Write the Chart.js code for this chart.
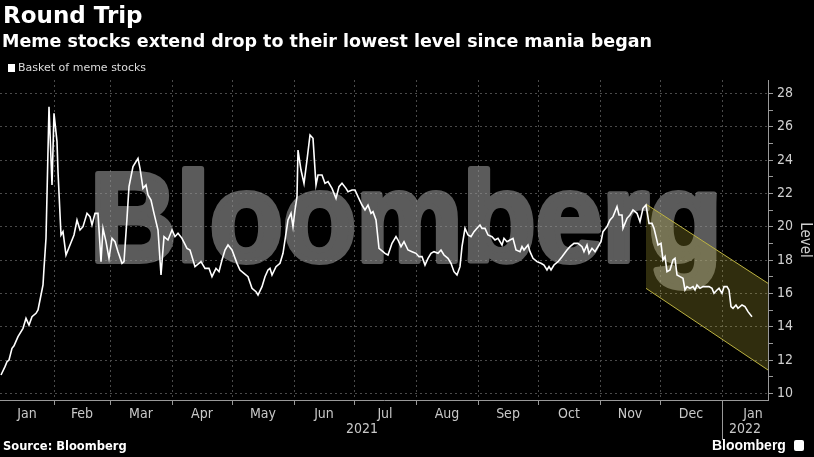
<!DOCTYPE html>
<html>
<head>
<meta charset="utf-8">
<script src="https://cdn.jsdelivr.net/npm/chart.js@4.4.0/dist/chart.umd.min.js"></script>
<style>
  html, body { margin: 0; padding: 0; background: #000; }
  #wrap { position: relative; width: 814px; height: 457px; overflow: hidden; }
  #wrap canvas { position: absolute; left: 0; top: 0; }
  .txt { position: absolute; color: #fff; white-space: nowrap; }
  #title { left: 3px; top: 2px; font: bold 23px 'DejaVu Sans', sans-serif; }
  #subtitle { left: 2px; top: 31px; font: bold 17.5px 'DejaVu Sans', sans-serif; }
  #legend { left: 8px; top: 61px; font: 11px 'DejaVu Sans', sans-serif; color: #ddd; }
  #legend i { display: inline-block; width: 7px; height: 8px; background: #fff; margin-right: 3px; vertical-align: -1px; }
  #source { left: 3px; top: 439px; font: bold 11.5px 'DejaVu Sans', sans-serif; }
  #logo { left: 712px; top: 437px; font: bold 14px 'Liberation Sans', sans-serif; }
  #logo b { display: inline-block; width: 10px; height: 11px; background: #fff; border-radius: 2px; margin-left: 8px; vertical-align: -1px; }
</style>
</head>
<body>
<div id="wrap">
  <canvas id="chart" width="814" height="457"></canvas>
  <div class="txt" id="title">Round Trip</div>
  <div class="txt" id="subtitle">Meme stocks extend drop to their lowest level since mania began</div>
  <div class="txt" id="legend"><i></i>Basket of meme stocks</div>
  <div class="txt" id="source">Source: Bloomberg</div>
  <div class="txt" id="logo">Bloomberg<b></b></div>
</div>
<script>
// x values are days counted from Jan 1 2021
const monthStarts = [31, 59, 90, 120, 151, 181, 212, 243, 273, 304, 334, 365];
const monthLabelDays = [17.5, 45, 74.5, 105, 135.5, 166, 196.5, 227.5, 258, 288.5, 319, 349.5, 380.5];
const monthLabels = ['Jan', 'Feb', 'Mar', 'Apr', 'May', 'Jun', 'Jul', 'Aug', 'Sep', 'Oct', 'Nov', 'Dec', 'Jan'];
const yearLabelDays = [185, 376.5];
const yearLabels = ['2021', '2022'];
const levelTicks = [10, 11, 12, 13, 14, 15, 16, 17, 18, 19, 20, 21, 22, 23, 24, 25, 26, 27, 28];

const days = [4.5, 6.5, 7.5, 8.5, 10, 11, 13, 15.5, 17, 18.5, 20, 22, 23, 24.5, 25.5, 26, 27, 27.5, 28.5, 30,
  31, 32.5, 33, 34.5, 35.5, 37, 39, 41, 42.5, 44, 45.5, 47.5, 49, 50, 51.5, 53, 54.5, 55.5, 57, 58.5,
  60, 61.5, 63, 65, 66, 67.5, 68.5, 70.5, 73, 74, 75.5, 77, 78, 79.5, 81, 83, 84.5, 86, 88, 90,
  91.5, 93, 95, 97.5, 99, 101.5, 104.5, 106.5, 108.5, 110, 112, 113.5, 115, 116.5, 118, 120, 122.5, 124, 126, 128,
  130, 132, 133, 135, 136.5, 138, 139, 140, 142, 144, 145.5, 147, 148, 149.5, 150.5, 151.5, 152.5, 153, 154.5, 156,
  157.5, 159, 160.5, 162, 163, 165, 166.5, 168, 170, 172, 173.5, 175, 177, 178, 180, 181.5, 183, 185, 186.5, 188,
  189.5, 190.5, 192, 193.5, 195.5, 196.5, 198, 200, 202, 203, 204.5, 206, 208, 210, 212, 213.5, 215, 216.5, 218, 219.5,
  221, 223, 224.5, 226, 228, 229.5, 231, 232.5, 234, 235, 236.5, 238, 239.5, 241, 242.5, 244, 245, 246.5, 248, 250,
  251.5, 253, 255, 256, 257.5, 259, 260.5, 262, 264, 265, 266, 268, 269, 270.5, 272.5, 274.5, 276, 277.5, 278.5, 279.5,
  281, 283, 285, 287.5, 289, 291, 293, 295, 296, 297.5, 298.5, 300, 301.5, 303, 304.5, 305.5, 307.5, 309, 310.5, 312.5,
  313.5, 315, 315.5, 317.5, 319, 320.5, 322.5, 324, 325.5, 327, 328.5, 330, 331, 332, 333, 334.5, 335.5, 336.5, 337.5, 339,
  340.5, 341.5, 342.5, 344, 345.5, 346.5, 347.5, 349, 350.5, 351.5, 352.5, 354, 355.5, 357.5, 358.5, 360, 361, 362.5, 363.5, 365,
  366, 367.5, 368.5, 369.5, 370.5, 372, 373, 375, 376.5, 378, 380];
const levels = [11.1, 11.6, 11.9, 12.0, 12.7, 12.85, 13.4, 13.9, 14.5, 14.1, 14.6, 14.8, 15.0, 15.9, 16.5, 17.5, 19.3, 21.9, 27.2, 22.5,
  26.8, 25.1, 23.3, 19.5, 19.7, 18.3, 18.9, 19.5, 20.4, 19.8, 20.0, 20.8, 20.6, 20.1, 20.8, 20.8, 17.9, 19.9, 19.1, 18.1,
  19.3, 19.1, 18.5, 17.8, 17.9, 20.5, 22.4, 23.6, 24.1, 23.5, 22.3, 22.5, 21.9, 21.6, 20.8, 19.8, 17.1, 19.4, 19.2, 19.8,
  19.4, 19.6, 19.3, 18.7, 18.6, 17.6, 17.9, 17.5, 17.5, 17.0, 17.5, 17.3, 18.0, 18.6, 18.9, 18.6, 17.8, 17.4, 17.2, 17.0,
  16.3, 16.1, 15.9, 16.4, 17.0, 17.4, 17.5, 17.1, 17.6, 17.8, 18.4, 19.6, 20.4, 20.8, 20.0, 21.0, 21.8, 24.6, 23.4, 22.6,
  24.0, 25.5, 25.3, 22.5, 23.1, 23.1, 22.6, 22.7, 22.3, 21.7, 22.4, 22.6, 22.3, 22.1, 22.2, 22.2, 21.8, 21.3, 21.0, 21.3,
  20.8, 20.9, 20.4, 18.7, 18.5, 18.4, 18.3, 19.0, 19.4, 19.2, 18.8, 19.1, 18.6, 18.5, 18.4, 18.2, 18.2, 17.7, 18.1, 18.4,
  18.5, 18.4, 18.6, 18.3, 18.1, 17.8, 17.3, 17.1, 17.6, 18.8, 19.9, 19.5, 19.4, 19.7, 19.9, 20.1, 19.9, 19.9, 19.5, 19.4,
  19.2, 19.3, 18.9, 19.3, 19.1, 19.2, 19.3, 18.6, 18.5, 18.8, 18.6, 18.9, 18.5, 18.1, 17.9, 17.8, 17.7, 17.4, 17.6, 17.4,
  17.7, 17.9, 18.2, 18.6, 18.8, 19.0, 19.0, 18.8, 18.5, 18.9, 18.4, 18.7, 18.5, 18.8, 19.1, 19.7, 20.0, 20.4, 20.6, 21.2,
  20.7, 20.7, 19.9, 20.5, 20.7, 21.0, 20.8, 20.3, 21.1, 21.3, 20.2, 20.2, 19.9, 19.4, 18.9, 19.0, 18.0, 18.2, 17.3, 17.4,
  18.0, 18.1, 17.1, 17.0, 16.9, 16.2, 16.4, 16.3, 16.4, 16.2, 16.5, 16.3, 16.4, 16.4, 16.4, 16.3, 16.0, 16.2, 16.3, 16.0,
  16.4, 16.4, 16.2, 15.2, 15.1, 15.3, 15.1, 15.3, 15.2, 14.9, 14.6];

// downward channel drawn over the last leg
const channelDays = [327, 388];
const channelUpper = [21.35, 16.6];
const channelLower = [16.3, 11.4];

const tickFont = { family: "'Liberation Sans Narrow', 'DejaVu Sans Condensed', 'Liberation Sans'", size: 14 };
const gridGrey = '#4a4a4a';

const extras = {
  id: 'extras',
  beforeDatasetsDraw(chart) {
    // heavy watermark: fill + stroke on a scratch canvas, then blended in once
    const off = document.createElement('canvas');
    off.width = chart.width;
    off.height = chart.height;
    const o = off.getContext('2d');
    o.font = "bold 126px 'Liberation Sans'";
    o.fillStyle = '#989898';
    o.strokeStyle = '#989898';
    o.lineWidth = 6;
    o.lineJoin = 'round';
    o.textAlign = 'center';
    o.textBaseline = 'alphabetic';
    o.fillText('Bloomberg', 406, 261, 632);
    o.strokeText('Bloomberg', 406, 261, 632);
    const ctx = chart.ctx;
    ctx.save();
    ctx.globalAlpha = 0.6;
    ctx.drawImage(off, 0, 0);
    ctx.restore();
  },
  afterDraw(chart) {
    const ctx = chart.ctx;
    const sx = chart.scales.x;
    ctx.save();
    ctx.fillStyle = '#c8c8c8';
    ctx.font = "14px 'Liberation Sans Narrow', 'DejaVu Sans Condensed', 'Liberation Sans'";
    ctx.textAlign = 'center';
    ctx.textBaseline = 'middle';
    yearLabels.forEach((t, i) => ctx.fillText(t, sx.getPixelForValue(yearLabelDays[i]), 429));
    const px = Math.round(sx.getPixelForValue(365)) + 0.5;
    ctx.strokeStyle = '#999';
    ctx.lineWidth = 1;
    ctx.beginPath();
    ctx.moveTo(px, chart.chartArea.bottom);
    ctx.lineTo(px, 440);
    ctx.stroke();
    ctx.restore();
  }
};

new Chart(document.getElementById('chart'), {
  type: 'line',
  data: {
    datasets: [
      {
        label: 'Basket of meme stocks',
        data: days.map((d, i) => ({ x: d, y: levels[i] })),
        borderColor: '#ffffff',
        borderWidth: 1.6,
        pointRadius: 0,
        tension: 0,
        fill: false
      },
      {
        data: channelDays.map((d, i) => ({ x: d, y: channelUpper[i] })),
        borderColor: '#bdb342',
        borderWidth: 1,
        pointRadius: 0,
        fill: false
      },
      {
        data: channelDays.map((d, i) => ({ x: d, y: channelLower[i] })),
        borderColor: '#bdb342',
        borderWidth: 1,
        pointRadius: 0,
        fill: '-1',
        backgroundColor: 'rgba(200,190,60,0.24)'
      }
    ]
  },
  options: {
    responsive: false,
    animation: false,
    events: [],
    layout: { padding: { left: 0, right: 0, top: 80, bottom: 30 } },
    plugins: { legend: { display: false }, tooltip: { enabled: false } },
    scales: {
      x: {
        type: 'linear',
        position: 'bottom',
        min: 4,
        max: 388,
        afterBuildTicks: s => { s.ticks = monthStarts.map(v => ({ value: v })); },
        afterFit: s => { s.height = 5; },
        ticks: { display: false },
        grid: { color: gridGrey, tickColor: '#999', tickLength: 5 },
        border: { color: '#999', dash: [2, 3] }
      },
      xm: {
        type: 'linear',
        position: 'bottom',
        min: 4,
        max: 388,
        afterBuildTicks: s => { s.ticks = monthLabelDays.map(v => ({ value: v })); },
        afterFit: s => { s.height = 22; },
        grid: { display: false, drawTicks: false },
        border: { display: false },
        ticks: {
          autoSkip: false,
          maxRotation: 0,
          padding: 1,
          color: '#c8c8c8',
          font: tickFont,
          callback: (v, i) => monthLabels[i]
        }
      },
      y: {
        type: 'linear',
        position: 'right',
        min: 9.6,
        max: 28.8,
        afterBuildTicks: s => { s.ticks = levelTicks.map(v => ({ value: v })); },
        afterFit: s => { s.width = 46; },
        grid: {
          color: c => (c.tick && c.tick.value % 2 === 0 ? gridGrey : 'transparent'),
          tickColor: '#999',
          tickLength: 5
        },
        border: { color: '#999', dash: [2, 3] },
        ticks: {
          autoSkip: false,
          padding: 4,
          color: '#d0d0d0',
          font: tickFont,
          callback: v => (v % 2 === 0 ? String(v) : '')
        },
        title: {
          display: true,
          text: 'Level',
          color: '#d0d0d0',
          font: { family: tickFont.family, size: 15 },
          padding: { top: 0, bottom: 4 }
        }
      }
    }
  },
  plugins: [extras]
});
</script>
</body>
</html>
